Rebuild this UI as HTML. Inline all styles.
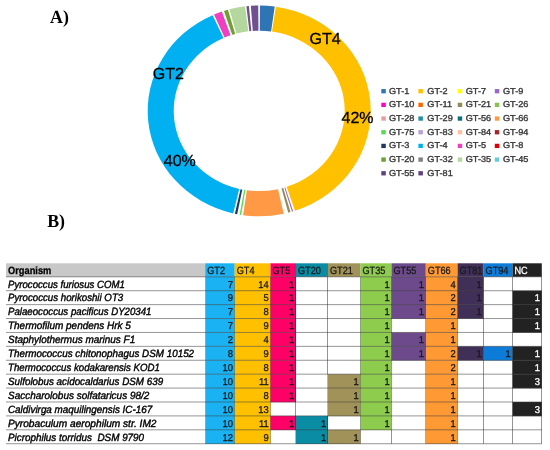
<!DOCTYPE html>
<html><head><meta charset="utf-8"><title>Figure</title>
<style>
html,body{margin:0;padding:0;background:#fff;}
body{width:550px;height:450px;overflow:hidden;}
svg{display:block;}
text{font-family:"Liberation Sans",sans-serif;text-rendering:geometricPrecision;}
.ser{font-family:"Liberation Serif",serif;font-weight:bold;}
</style></head><body>
<svg width="550" height="450" viewBox="0 0 550 450">
<rect width="550" height="450" fill="#fff"/>

<g id="donut">
<path d="M259.98,5.50 A111.5,105.4 0 0 1 274.72,6.53 L271.10,31.48 A85.5,80.2 0 0 0 259.80,30.70 Z" fill="#2E75B6"/>
<path d="M275.87,6.69 A111.5,105.4 0 0 1 294.95,210.74 L286.61,186.87 A85.5,80.2 0 0 0 271.99,31.60 Z" fill="#FFC000"/>
<path d="M293.10,211.31 A111.5,105.4 0 0 1 291.99,211.64 L284.34,187.55 A85.5,80.2 0 0 0 285.19,187.30 Z" fill="#9966CC"/>
<path d="M290.49,212.06 A111.5,105.4 0 0 1 288.25,212.66 L281.47,188.33 A85.5,80.2 0 0 0 283.20,187.88 Z" fill="#948A54"/>
<path d="M283.71,213.72 A111.5,105.4 0 0 1 243.10,215.20 L246.86,190.26 A85.5,80.2 0 0 0 278.00,189.14 Z" fill="#FF9945"/>
<path d="M241.18,214.91 A111.5,105.4 0 0 1 239.65,214.67 L244.21,189.86 A85.5,80.2 0 0 0 245.38,190.05 Z" fill="#55DD55"/>
<path d="M237.16,214.22 A111.5,105.4 0 0 1 234.88,213.76 L240.55,189.17 A85.5,80.2 0 0 0 242.30,189.52 Z" fill="#1F3864"/>
<path d="M233.17,213.39 A111.5,105.4 0 0 1 212.61,15.14 L223.47,38.04 A85.5,80.2 0 0 0 239.24,188.88 Z" fill="#00B0F0"/>
<path d="M214.03,14.54 A111.5,105.4 0 0 1 221.80,11.61 L230.52,35.35 A85.5,80.2 0 0 0 224.56,37.58 Z" fill="#F040C0"/>
<path d="M224.01,10.89 A111.5,105.4 0 0 1 227.91,9.74 L235.20,33.92 A85.5,80.2 0 0 0 232.21,34.80 Z" fill="#70A030"/>
<path d="M229.40,9.33 A111.5,105.4 0 0 1 245.03,6.35 L248.34,31.35 A85.5,80.2 0 0 0 236.35,33.62 Z" fill="#B4D79E"/>
<path d="M246.38,6.20 A111.5,105.4 0 0 1 248.90,5.95 L251.30,31.04 A85.5,80.2 0 0 0 249.37,31.23 Z" fill="#70508F"/>
<path d="M250.84,5.80 A111.5,105.4 0 0 1 258.23,5.50 L258.45,30.70 A85.5,80.2 0 0 0 252.79,30.93 Z" fill="#70508F"/>
</g>
<text transform="translate(309.50,43.50) scale(1.0,1)" font-size="16" text-anchor="start" fill="#000" stroke="#000" stroke-width="0.3">GT4</text>
<text transform="translate(341.50,122.50) scale(1.0,1)" font-size="16" text-anchor="start" fill="#000" stroke="#000" stroke-width="0.3">42%</text>
<text transform="translate(152.80,78.80) scale(1.0,1)" font-size="16" text-anchor="start" fill="#000" stroke="#000" stroke-width="0.3">GT2</text>
<text transform="translate(163.80,165.70) scale(1.0,1)" font-size="16" text-anchor="start" fill="#000" stroke="#000" stroke-width="0.3">40%</text>
<text class="ser" transform="translate(50,22.8) scale(0.965,1)" font-size="18.5">A)</text>
<text class="ser" transform="translate(47.2,227.2) scale(0.965,1)" font-size="18.5">B)</text>
<g id="legend">
<rect x="381.30" y="89.05" width="4.5" height="4.3" fill="#2E75B6"/>
<text transform="translate(389.00,93.70) scale(1.065,1)" font-size="8.6" text-anchor="start" fill="#383838" stroke="#383838" stroke-width="0.35">GT-1</text>
<rect x="418.40" y="89.05" width="4.5" height="4.3" fill="#FFC000"/>
<text transform="translate(427.30,93.70) scale(1.065,1)" font-size="8.6" text-anchor="start" fill="#383838" stroke="#383838" stroke-width="0.35">GT-2</text>
<rect x="457.70" y="89.05" width="4.5" height="4.3" fill="#FFFF00"/>
<text transform="translate(465.70,93.70) scale(1.065,1)" font-size="8.6" text-anchor="start" fill="#383838" stroke="#383838" stroke-width="0.35">GT-7</text>
<rect x="494.80" y="89.05" width="4.5" height="4.3" fill="#9966CC"/>
<text transform="translate(503.00,93.70) scale(1.065,1)" font-size="8.6" text-anchor="start" fill="#383838" stroke="#383838" stroke-width="0.35">GT-9</text>
<rect x="381.30" y="102.73" width="4.5" height="4.3" fill="#FF00CC"/>
<text transform="translate(389.00,107.38) scale(1.065,1)" font-size="8.6" text-anchor="start" fill="#383838" stroke="#383838" stroke-width="0.35">GT-10</text>
<rect x="418.40" y="102.73" width="4.5" height="4.3" fill="#FF6600"/>
<text transform="translate(427.30,107.38) scale(1.065,1)" font-size="8.6" text-anchor="start" fill="#383838" stroke="#383838" stroke-width="0.35">GT-11</text>
<rect x="457.70" y="102.73" width="4.5" height="4.3" fill="#948A54"/>
<text transform="translate(465.70,107.38) scale(1.065,1)" font-size="8.6" text-anchor="start" fill="#383838" stroke="#383838" stroke-width="0.35">GT-21</text>
<rect x="494.80" y="102.73" width="4.5" height="4.3" fill="#8CC152"/>
<text transform="translate(503.00,107.38) scale(1.065,1)" font-size="8.6" text-anchor="start" fill="#383838" stroke="#383838" stroke-width="0.35">GT-26</text>
<rect x="381.30" y="116.41" width="4.5" height="4.3" fill="#E6A0A0"/>
<text transform="translate(389.00,121.06) scale(1.065,1)" font-size="8.6" text-anchor="start" fill="#383838" stroke="#383838" stroke-width="0.35">GT-28</text>
<rect x="418.40" y="116.41" width="4.5" height="4.3" fill="#2090A8"/>
<text transform="translate(427.30,121.06) scale(1.065,1)" font-size="8.6" text-anchor="start" fill="#383838" stroke="#383838" stroke-width="0.35">GT-29</text>
<rect x="457.70" y="116.41" width="4.5" height="4.3" fill="#107080"/>
<text transform="translate(465.70,121.06) scale(1.065,1)" font-size="8.6" text-anchor="start" fill="#383838" stroke="#383838" stroke-width="0.35">GT-56</text>
<rect x="494.80" y="116.41" width="4.5" height="4.3" fill="#FF9945"/>
<text transform="translate(503.00,121.06) scale(1.065,1)" font-size="8.6" text-anchor="start" fill="#383838" stroke="#383838" stroke-width="0.35">GT-66</text>
<rect x="381.30" y="130.09" width="4.5" height="4.3" fill="#55DD55"/>
<text transform="translate(389.00,134.74) scale(1.065,1)" font-size="8.6" text-anchor="start" fill="#383838" stroke="#383838" stroke-width="0.35">GT-75</text>
<rect x="418.40" y="130.09" width="4.5" height="4.3" fill="#B8A0D8"/>
<text transform="translate(427.30,134.74) scale(1.065,1)" font-size="8.6" text-anchor="start" fill="#383838" stroke="#383838" stroke-width="0.35">GT-83</text>
<rect x="457.70" y="130.09" width="4.5" height="4.3" fill="#FFC0A0"/>
<text transform="translate(465.70,134.74) scale(1.065,1)" font-size="8.6" text-anchor="start" fill="#383838" stroke="#383838" stroke-width="0.35">GT-84</text>
<rect x="494.80" y="130.09" width="4.5" height="4.3" fill="#A02828"/>
<text transform="translate(503.00,134.74) scale(1.065,1)" font-size="8.6" text-anchor="start" fill="#383838" stroke="#383838" stroke-width="0.35">GT-94</text>
<rect x="381.30" y="143.77" width="4.5" height="4.3" fill="#1F3864"/>
<text transform="translate(389.00,148.42) scale(1.065,1)" font-size="8.6" text-anchor="start" fill="#383838" stroke="#383838" stroke-width="0.35">GT-3</text>
<rect x="418.40" y="143.77" width="4.5" height="4.3" fill="#00B0F0"/>
<text transform="translate(427.30,148.42) scale(1.065,1)" font-size="8.6" text-anchor="start" fill="#383838" stroke="#383838" stroke-width="0.35">GT-4</text>
<rect x="457.70" y="143.77" width="4.5" height="4.3" fill="#F040C0"/>
<text transform="translate(465.70,148.42) scale(1.065,1)" font-size="8.6" text-anchor="start" fill="#383838" stroke="#383838" stroke-width="0.35">GT-5</text>
<rect x="494.80" y="143.77" width="4.5" height="4.3" fill="#DD0000"/>
<text transform="translate(503.00,148.42) scale(1.065,1)" font-size="8.6" text-anchor="start" fill="#383838" stroke="#383838" stroke-width="0.35">GT-8</text>
<rect x="381.30" y="157.45" width="4.5" height="4.3" fill="#70A030"/>
<text transform="translate(389.00,162.10) scale(1.065,1)" font-size="8.6" text-anchor="start" fill="#383838" stroke="#383838" stroke-width="0.35">GT-20</text>
<rect x="418.40" y="157.45" width="4.5" height="4.3" fill="#808080"/>
<text transform="translate(427.30,162.10) scale(1.065,1)" font-size="8.6" text-anchor="start" fill="#383838" stroke="#383838" stroke-width="0.35">GT-32</text>
<rect x="457.70" y="157.45" width="4.5" height="4.3" fill="#B4D79E"/>
<text transform="translate(465.70,162.10) scale(1.065,1)" font-size="8.6" text-anchor="start" fill="#383838" stroke="#383838" stroke-width="0.35">GT-35</text>
<rect x="494.80" y="157.45" width="4.5" height="4.3" fill="#66CCDD"/>
<text transform="translate(503.00,162.10) scale(1.065,1)" font-size="8.6" text-anchor="start" fill="#383838" stroke="#383838" stroke-width="0.35">GT-45</text>
<rect x="381.30" y="171.13" width="4.5" height="4.3" fill="#604080"/>
<text transform="translate(389.00,175.78) scale(1.065,1)" font-size="8.6" text-anchor="start" fill="#383838" stroke="#383838" stroke-width="0.35">GT-55</text>
<rect x="418.40" y="171.13" width="4.5" height="4.3" fill="#604080"/>
<text transform="translate(427.30,175.78) scale(1.065,1)" font-size="8.6" text-anchor="start" fill="#383838" stroke="#383838" stroke-width="0.35">GT-81</text>
</g>
<g id="table">
<rect x="6" y="263.3" width="199.2" height="13.5" fill="#C8C8C8"/>
<rect x="205.2" y="263.3" width="29.5" height="13.5" fill="#1AB2F2"/>
<rect x="234.7" y="263.3" width="35.80000000000001" height="13.5" fill="#FFC000"/>
<rect x="270.5" y="263.3" width="25.5" height="13.5" fill="#FF0066"/>
<rect x="296" y="263.3" width="32" height="13.5" fill="#0A8CA4"/>
<rect x="328" y="263.3" width="32.5" height="13.5" fill="#A09258"/>
<rect x="360.5" y="263.3" width="31.0" height="13.5" fill="#8ECC4E"/>
<rect x="391.5" y="263.3" width="34.30000000000001" height="13.5" fill="#6C4A8C"/>
<rect x="425.8" y="263.3" width="31.80000000000001" height="13.5" fill="#FF9933"/>
<rect x="457.6" y="263.3" width="26.0" height="13.5" fill="#403058"/>
<rect x="483.6" y="263.3" width="28.899999999999977" height="13.5" fill="#0C7CD8"/>
<rect x="512.5" y="263.3" width="29.299999999999955" height="13.5" fill="#222222"/>
<rect x="205.2" y="276.80" width="29.50" height="14.16" fill="#1AB2F2"/>
<rect x="234.7" y="276.80" width="35.80" height="14.16" fill="#FFC000"/>
<rect x="270.5" y="276.80" width="25.50" height="14.16" fill="#FF0066"/>
<rect x="360.5" y="276.80" width="31.00" height="14.16" fill="#8ECC4E"/>
<rect x="391.5" y="276.80" width="34.30" height="14.16" fill="#6C4A8C"/>
<rect x="425.8" y="276.80" width="31.80" height="14.16" fill="#FF9933"/>
<rect x="457.6" y="276.80" width="26.00" height="14.16" fill="#403058"/>
<rect x="205.2" y="290.71" width="29.50" height="14.16" fill="#1AB2F2"/>
<rect x="234.7" y="290.71" width="35.80" height="14.16" fill="#FFC000"/>
<rect x="270.5" y="290.71" width="25.50" height="14.16" fill="#FF0066"/>
<rect x="360.5" y="290.71" width="31.00" height="14.16" fill="#8ECC4E"/>
<rect x="391.5" y="290.71" width="34.30" height="14.16" fill="#6C4A8C"/>
<rect x="425.8" y="290.71" width="31.80" height="14.16" fill="#FF9933"/>
<rect x="457.6" y="290.71" width="26.00" height="14.16" fill="#403058"/>
<rect x="512.5" y="290.71" width="29.30" height="14.16" fill="#222222"/>
<rect x="205.2" y="304.62" width="29.50" height="14.16" fill="#1AB2F2"/>
<rect x="234.7" y="304.62" width="35.80" height="14.16" fill="#FFC000"/>
<rect x="270.5" y="304.62" width="25.50" height="14.16" fill="#FF0066"/>
<rect x="360.5" y="304.62" width="31.00" height="14.16" fill="#8ECC4E"/>
<rect x="391.5" y="304.62" width="34.30" height="14.16" fill="#6C4A8C"/>
<rect x="425.8" y="304.62" width="31.80" height="14.16" fill="#FF9933"/>
<rect x="457.6" y="304.62" width="26.00" height="14.16" fill="#403058"/>
<rect x="512.5" y="304.62" width="29.30" height="14.16" fill="#222222"/>
<rect x="205.2" y="318.53" width="29.50" height="14.16" fill="#1AB2F2"/>
<rect x="234.7" y="318.53" width="35.80" height="14.16" fill="#FFC000"/>
<rect x="270.5" y="318.53" width="25.50" height="14.16" fill="#FF0066"/>
<rect x="360.5" y="318.53" width="31.00" height="14.16" fill="#8ECC4E"/>
<rect x="425.8" y="318.53" width="31.80" height="14.16" fill="#FF9933"/>
<rect x="512.5" y="318.53" width="29.30" height="14.16" fill="#222222"/>
<rect x="205.2" y="332.44" width="29.50" height="14.16" fill="#1AB2F2"/>
<rect x="234.7" y="332.44" width="35.80" height="14.16" fill="#FFC000"/>
<rect x="270.5" y="332.44" width="25.50" height="14.16" fill="#FF0066"/>
<rect x="360.5" y="332.44" width="31.00" height="14.16" fill="#8ECC4E"/>
<rect x="391.5" y="332.44" width="34.30" height="14.16" fill="#6C4A8C"/>
<rect x="425.8" y="332.44" width="31.80" height="14.16" fill="#FF9933"/>
<rect x="205.2" y="346.35" width="29.50" height="14.16" fill="#1AB2F2"/>
<rect x="234.7" y="346.35" width="35.80" height="14.16" fill="#FFC000"/>
<rect x="270.5" y="346.35" width="25.50" height="14.16" fill="#FF0066"/>
<rect x="360.5" y="346.35" width="31.00" height="14.16" fill="#8ECC4E"/>
<rect x="391.5" y="346.35" width="34.30" height="14.16" fill="#6C4A8C"/>
<rect x="425.8" y="346.35" width="31.80" height="14.16" fill="#FF9933"/>
<rect x="457.6" y="346.35" width="26.00" height="14.16" fill="#403058"/>
<rect x="483.6" y="346.35" width="28.90" height="14.16" fill="#0C7CD8"/>
<rect x="512.5" y="346.35" width="29.30" height="14.16" fill="#222222"/>
<rect x="205.2" y="360.26" width="29.50" height="14.16" fill="#1AB2F2"/>
<rect x="234.7" y="360.26" width="35.80" height="14.16" fill="#FFC000"/>
<rect x="270.5" y="360.26" width="25.50" height="14.16" fill="#FF0066"/>
<rect x="360.5" y="360.26" width="31.00" height="14.16" fill="#8ECC4E"/>
<rect x="425.8" y="360.26" width="31.80" height="14.16" fill="#FF9933"/>
<rect x="512.5" y="360.26" width="29.30" height="14.16" fill="#222222"/>
<rect x="205.2" y="374.17" width="29.50" height="14.16" fill="#1AB2F2"/>
<rect x="234.7" y="374.17" width="35.80" height="14.16" fill="#FFC000"/>
<rect x="270.5" y="374.17" width="25.50" height="14.16" fill="#FF0066"/>
<rect x="328" y="374.17" width="32.50" height="14.16" fill="#A09258"/>
<rect x="360.5" y="374.17" width="31.00" height="14.16" fill="#8ECC4E"/>
<rect x="425.8" y="374.17" width="31.80" height="14.16" fill="#FF9933"/>
<rect x="512.5" y="374.17" width="29.30" height="14.16" fill="#222222"/>
<rect x="205.2" y="388.08" width="29.50" height="14.16" fill="#1AB2F2"/>
<rect x="234.7" y="388.08" width="35.80" height="14.16" fill="#FFC000"/>
<rect x="270.5" y="388.08" width="25.50" height="14.16" fill="#FF0066"/>
<rect x="328" y="388.08" width="32.50" height="14.16" fill="#A09258"/>
<rect x="360.5" y="388.08" width="31.00" height="14.16" fill="#8ECC4E"/>
<rect x="425.8" y="388.08" width="31.80" height="14.16" fill="#FF9933"/>
<rect x="205.2" y="401.99" width="29.50" height="14.16" fill="#1AB2F2"/>
<rect x="234.7" y="401.99" width="35.80" height="14.16" fill="#FFC000"/>
<rect x="328" y="401.99" width="32.50" height="14.16" fill="#A09258"/>
<rect x="360.5" y="401.99" width="31.00" height="14.16" fill="#8ECC4E"/>
<rect x="425.8" y="401.99" width="31.80" height="14.16" fill="#FF9933"/>
<rect x="512.5" y="401.99" width="29.30" height="14.16" fill="#222222"/>
<rect x="205.2" y="415.90" width="29.50" height="14.16" fill="#1AB2F2"/>
<rect x="234.7" y="415.90" width="35.80" height="14.16" fill="#FFC000"/>
<rect x="270.5" y="415.90" width="25.50" height="14.16" fill="#FF0066"/>
<rect x="296" y="415.90" width="32.00" height="14.16" fill="#0A8CA4"/>
<rect x="360.5" y="415.90" width="31.00" height="14.16" fill="#8ECC4E"/>
<rect x="425.8" y="415.90" width="31.80" height="14.16" fill="#FF9933"/>
<rect x="205.2" y="429.81" width="29.50" height="14.16" fill="#1AB2F2"/>
<rect x="234.7" y="429.81" width="35.80" height="14.16" fill="#FFC000"/>
<rect x="296" y="429.81" width="32.00" height="14.16" fill="#0A8CA4"/>
<rect x="328" y="429.81" width="32.50" height="14.16" fill="#A09258"/>
<rect x="425.8" y="429.81" width="31.80" height="14.16" fill="#FF9933"/>
<rect x="6" y="276.30" width="535.8" height="1" fill="#404040" fill-opacity="0.55"/>
<rect x="6" y="290.21" width="535.8" height="1" fill="#404040" fill-opacity="0.55"/>
<rect x="6" y="304.12" width="535.8" height="1" fill="#404040" fill-opacity="0.55"/>
<rect x="6" y="318.03" width="535.8" height="1" fill="#404040" fill-opacity="0.55"/>
<rect x="6" y="331.94" width="535.8" height="1" fill="#404040" fill-opacity="0.55"/>
<rect x="6" y="345.85" width="535.8" height="1" fill="#404040" fill-opacity="0.55"/>
<rect x="6" y="359.76" width="535.8" height="1" fill="#404040" fill-opacity="0.55"/>
<rect x="6" y="373.67" width="535.8" height="1" fill="#404040" fill-opacity="0.55"/>
<rect x="6" y="387.58" width="535.8" height="1" fill="#404040" fill-opacity="0.55"/>
<rect x="6" y="401.49" width="535.8" height="1" fill="#404040" fill-opacity="0.55"/>
<rect x="6" y="415.40" width="535.8" height="1" fill="#404040" fill-opacity="0.55"/>
<rect x="6" y="429.31" width="535.8" height="1" fill="#404040" fill-opacity="0.55"/>
<rect x="6" y="443.22" width="535.8" height="1" fill="#404040" fill-opacity="0.55"/>
<rect x="234" y="276.80" width="1" height="13.91" fill="#000" fill-opacity="0.28"/>
<rect x="234" y="290.71" width="1" height="13.91" fill="#000" fill-opacity="0.28"/>
<rect x="234" y="304.62" width="1" height="13.91" fill="#000" fill-opacity="0.28"/>
<rect x="234" y="318.53" width="1" height="13.91" fill="#000" fill-opacity="0.28"/>
<rect x="234" y="332.44" width="1" height="13.91" fill="#000" fill-opacity="0.28"/>
<rect x="234" y="346.35" width="1" height="13.91" fill="#000" fill-opacity="0.28"/>
<rect x="234" y="360.26" width="1" height="13.91" fill="#000" fill-opacity="0.28"/>
<rect x="234" y="374.17" width="1" height="13.91" fill="#000" fill-opacity="0.28"/>
<rect x="234" y="388.08" width="1" height="13.91" fill="#000" fill-opacity="0.28"/>
<rect x="234" y="401.99" width="1" height="13.91" fill="#000" fill-opacity="0.28"/>
<rect x="234" y="415.90" width="1" height="13.91" fill="#000" fill-opacity="0.28"/>
<rect x="234" y="429.81" width="1" height="13.91" fill="#000" fill-opacity="0.28"/>
<rect x="270" y="276.80" width="1" height="13.91" fill="#000" fill-opacity="0.28"/>
<rect x="270" y="290.71" width="1" height="13.91" fill="#000" fill-opacity="0.28"/>
<rect x="270" y="304.62" width="1" height="13.91" fill="#000" fill-opacity="0.28"/>
<rect x="270" y="318.53" width="1" height="13.91" fill="#000" fill-opacity="0.28"/>
<rect x="270" y="332.44" width="1" height="13.91" fill="#000" fill-opacity="0.28"/>
<rect x="270" y="346.35" width="1" height="13.91" fill="#000" fill-opacity="0.28"/>
<rect x="270" y="360.26" width="1" height="13.91" fill="#000" fill-opacity="0.28"/>
<rect x="270" y="374.17" width="1" height="13.91" fill="#000" fill-opacity="0.28"/>
<rect x="270" y="388.08" width="1" height="13.91" fill="#000" fill-opacity="0.28"/>
<rect x="270" y="401.99" width="1" height="13.91" fill="#000" fill-opacity="0.28"/>
<rect x="270" y="415.90" width="1" height="13.91" fill="#000" fill-opacity="0.28"/>
<rect x="270" y="429.81" width="1" height="13.91" fill="#000" fill-opacity="0.28"/>
<rect x="295" y="276.80" width="1" height="13.91" fill="#000" fill-opacity="0.28"/>
<rect x="295" y="290.71" width="1" height="13.91" fill="#000" fill-opacity="0.28"/>
<rect x="295" y="304.62" width="1" height="13.91" fill="#000" fill-opacity="0.28"/>
<rect x="295" y="318.53" width="1" height="13.91" fill="#000" fill-opacity="0.28"/>
<rect x="295" y="332.44" width="1" height="13.91" fill="#000" fill-opacity="0.28"/>
<rect x="295" y="346.35" width="1" height="13.91" fill="#000" fill-opacity="0.28"/>
<rect x="295" y="360.26" width="1" height="13.91" fill="#000" fill-opacity="0.28"/>
<rect x="295" y="374.17" width="1" height="13.91" fill="#000" fill-opacity="0.28"/>
<rect x="295" y="388.08" width="1" height="13.91" fill="#000" fill-opacity="0.28"/>
<rect x="295" y="401.99" width="1" height="13.91" fill="#000" fill-opacity="0.42"/>
<rect x="295" y="415.90" width="1" height="13.91" fill="#000" fill-opacity="0.28"/>
<rect x="295" y="429.81" width="1" height="13.91" fill="#000" fill-opacity="0.28"/>
<rect x="327" y="276.80" width="1" height="13.91" fill="#000" fill-opacity="0.42"/>
<rect x="327" y="290.71" width="1" height="13.91" fill="#000" fill-opacity="0.42"/>
<rect x="327" y="304.62" width="1" height="13.91" fill="#000" fill-opacity="0.42"/>
<rect x="327" y="318.53" width="1" height="13.91" fill="#000" fill-opacity="0.42"/>
<rect x="327" y="332.44" width="1" height="13.91" fill="#000" fill-opacity="0.42"/>
<rect x="327" y="346.35" width="1" height="13.91" fill="#000" fill-opacity="0.42"/>
<rect x="327" y="360.26" width="1" height="13.91" fill="#000" fill-opacity="0.42"/>
<rect x="327" y="374.17" width="1" height="13.91" fill="#000" fill-opacity="0.28"/>
<rect x="327" y="388.08" width="1" height="13.91" fill="#000" fill-opacity="0.28"/>
<rect x="327" y="401.99" width="1" height="13.91" fill="#000" fill-opacity="0.28"/>
<rect x="327" y="415.90" width="1" height="13.91" fill="#000" fill-opacity="0.28"/>
<rect x="327" y="429.81" width="1" height="13.91" fill="#000" fill-opacity="0.28"/>
<rect x="360" y="276.80" width="1" height="13.91" fill="#000" fill-opacity="0.28"/>
<rect x="360" y="290.71" width="1" height="13.91" fill="#000" fill-opacity="0.28"/>
<rect x="360" y="304.62" width="1" height="13.91" fill="#000" fill-opacity="0.28"/>
<rect x="360" y="318.53" width="1" height="13.91" fill="#000" fill-opacity="0.28"/>
<rect x="360" y="332.44" width="1" height="13.91" fill="#000" fill-opacity="0.28"/>
<rect x="360" y="346.35" width="1" height="13.91" fill="#000" fill-opacity="0.28"/>
<rect x="360" y="360.26" width="1" height="13.91" fill="#000" fill-opacity="0.28"/>
<rect x="360" y="374.17" width="1" height="13.91" fill="#000" fill-opacity="0.28"/>
<rect x="360" y="388.08" width="1" height="13.91" fill="#000" fill-opacity="0.28"/>
<rect x="360" y="401.99" width="1" height="13.91" fill="#000" fill-opacity="0.28"/>
<rect x="360" y="415.90" width="1" height="13.91" fill="#000" fill-opacity="0.28"/>
<rect x="360" y="429.81" width="1" height="13.91" fill="#000" fill-opacity="0.28"/>
<rect x="391" y="276.80" width="1" height="13.91" fill="#000" fill-opacity="0.28"/>
<rect x="391" y="290.71" width="1" height="13.91" fill="#000" fill-opacity="0.28"/>
<rect x="391" y="304.62" width="1" height="13.91" fill="#000" fill-opacity="0.28"/>
<rect x="391" y="318.53" width="1" height="13.91" fill="#000" fill-opacity="0.28"/>
<rect x="391" y="332.44" width="1" height="13.91" fill="#000" fill-opacity="0.28"/>
<rect x="391" y="346.35" width="1" height="13.91" fill="#000" fill-opacity="0.28"/>
<rect x="391" y="360.26" width="1" height="13.91" fill="#000" fill-opacity="0.28"/>
<rect x="391" y="374.17" width="1" height="13.91" fill="#000" fill-opacity="0.28"/>
<rect x="391" y="388.08" width="1" height="13.91" fill="#000" fill-opacity="0.28"/>
<rect x="391" y="401.99" width="1" height="13.91" fill="#000" fill-opacity="0.28"/>
<rect x="391" y="415.90" width="1" height="13.91" fill="#000" fill-opacity="0.28"/>
<rect x="391" y="429.81" width="1" height="13.91" fill="#000" fill-opacity="0.42"/>
<rect x="425" y="276.80" width="1" height="13.91" fill="#000" fill-opacity="0.28"/>
<rect x="425" y="290.71" width="1" height="13.91" fill="#000" fill-opacity="0.28"/>
<rect x="425" y="304.62" width="1" height="13.91" fill="#000" fill-opacity="0.28"/>
<rect x="425" y="318.53" width="1" height="13.91" fill="#000" fill-opacity="0.28"/>
<rect x="425" y="332.44" width="1" height="13.91" fill="#000" fill-opacity="0.28"/>
<rect x="425" y="346.35" width="1" height="13.91" fill="#000" fill-opacity="0.28"/>
<rect x="425" y="360.26" width="1" height="13.91" fill="#000" fill-opacity="0.28"/>
<rect x="425" y="374.17" width="1" height="13.91" fill="#000" fill-opacity="0.28"/>
<rect x="425" y="388.08" width="1" height="13.91" fill="#000" fill-opacity="0.28"/>
<rect x="425" y="401.99" width="1" height="13.91" fill="#000" fill-opacity="0.28"/>
<rect x="425" y="415.90" width="1" height="13.91" fill="#000" fill-opacity="0.28"/>
<rect x="425" y="429.81" width="1" height="13.91" fill="#000" fill-opacity="0.28"/>
<rect x="457" y="276.80" width="1" height="13.91" fill="#000" fill-opacity="0.28"/>
<rect x="457" y="290.71" width="1" height="13.91" fill="#000" fill-opacity="0.28"/>
<rect x="457" y="304.62" width="1" height="13.91" fill="#000" fill-opacity="0.28"/>
<rect x="457" y="318.53" width="1" height="13.91" fill="#000" fill-opacity="0.28"/>
<rect x="457" y="332.44" width="1" height="13.91" fill="#000" fill-opacity="0.28"/>
<rect x="457" y="346.35" width="1" height="13.91" fill="#000" fill-opacity="0.28"/>
<rect x="457" y="360.26" width="1" height="13.91" fill="#000" fill-opacity="0.28"/>
<rect x="457" y="374.17" width="1" height="13.91" fill="#000" fill-opacity="0.28"/>
<rect x="457" y="388.08" width="1" height="13.91" fill="#000" fill-opacity="0.28"/>
<rect x="457" y="401.99" width="1" height="13.91" fill="#000" fill-opacity="0.28"/>
<rect x="457" y="415.90" width="1" height="13.91" fill="#000" fill-opacity="0.28"/>
<rect x="457" y="429.81" width="1" height="13.91" fill="#000" fill-opacity="0.28"/>
<rect x="483" y="276.80" width="1" height="13.91" fill="#000" fill-opacity="0.28"/>
<rect x="483" y="290.71" width="1" height="13.91" fill="#000" fill-opacity="0.28"/>
<rect x="483" y="304.62" width="1" height="13.91" fill="#000" fill-opacity="0.28"/>
<rect x="483" y="318.53" width="1" height="13.91" fill="#000" fill-opacity="0.42"/>
<rect x="483" y="332.44" width="1" height="13.91" fill="#000" fill-opacity="0.42"/>
<rect x="483" y="346.35" width="1" height="13.91" fill="#000" fill-opacity="0.28"/>
<rect x="483" y="360.26" width="1" height="13.91" fill="#000" fill-opacity="0.42"/>
<rect x="483" y="374.17" width="1" height="13.91" fill="#000" fill-opacity="0.42"/>
<rect x="483" y="388.08" width="1" height="13.91" fill="#000" fill-opacity="0.42"/>
<rect x="483" y="401.99" width="1" height="13.91" fill="#000" fill-opacity="0.42"/>
<rect x="483" y="415.90" width="1" height="13.91" fill="#000" fill-opacity="0.42"/>
<rect x="483" y="429.81" width="1" height="13.91" fill="#000" fill-opacity="0.42"/>
<rect x="512" y="276.80" width="1" height="13.91" fill="#000" fill-opacity="0.42"/>
<rect x="512" y="290.71" width="1" height="13.91" fill="#000" fill-opacity="0.28"/>
<rect x="512" y="304.62" width="1" height="13.91" fill="#000" fill-opacity="0.28"/>
<rect x="512" y="318.53" width="1" height="13.91" fill="#000" fill-opacity="0.28"/>
<rect x="512" y="332.44" width="1" height="13.91" fill="#000" fill-opacity="0.42"/>
<rect x="512" y="346.35" width="1" height="13.91" fill="#000" fill-opacity="0.28"/>
<rect x="512" y="360.26" width="1" height="13.91" fill="#000" fill-opacity="0.28"/>
<rect x="512" y="374.17" width="1" height="13.91" fill="#000" fill-opacity="0.28"/>
<rect x="512" y="388.08" width="1" height="13.91" fill="#000" fill-opacity="0.42"/>
<rect x="512" y="401.99" width="1" height="13.91" fill="#000" fill-opacity="0.28"/>
<rect x="512" y="415.90" width="1" height="13.91" fill="#000" fill-opacity="0.42"/>
<rect x="512" y="429.81" width="1" height="13.91" fill="#000" fill-opacity="0.42"/>
<rect x="541" y="276.80" width="1" height="13.91" fill="#000" fill-opacity="0.42"/>
<rect x="541" y="290.71" width="1" height="13.91" fill="#000" fill-opacity="0.28"/>
<rect x="541" y="304.62" width="1" height="13.91" fill="#000" fill-opacity="0.28"/>
<rect x="541" y="318.53" width="1" height="13.91" fill="#000" fill-opacity="0.28"/>
<rect x="541" y="332.44" width="1" height="13.91" fill="#000" fill-opacity="0.42"/>
<rect x="541" y="346.35" width="1" height="13.91" fill="#000" fill-opacity="0.28"/>
<rect x="541" y="360.26" width="1" height="13.91" fill="#000" fill-opacity="0.28"/>
<rect x="541" y="374.17" width="1" height="13.91" fill="#000" fill-opacity="0.28"/>
<rect x="541" y="388.08" width="1" height="13.91" fill="#000" fill-opacity="0.42"/>
<rect x="541" y="401.99" width="1" height="13.91" fill="#000" fill-opacity="0.28"/>
<rect x="541" y="415.90" width="1" height="13.91" fill="#000" fill-opacity="0.42"/>
<rect x="541" y="429.81" width="1" height="13.91" fill="#000" fill-opacity="0.42"/>
<text transform="translate(8.00,273.70) scale(0.8832,1)" font-size="10.5" text-anchor="start" fill="#000" font-weight="bold" stroke="#000" stroke-width="0.3">Organism</text>
<text transform="translate(207.20,273.70) scale(0.87,1)" font-size="10.5" text-anchor="start" fill="#1a1a1a" stroke="#1a1a1a" stroke-width="0.3">GT2</text>
<text transform="translate(236.70,273.70) scale(0.87,1)" font-size="10.5" text-anchor="start" fill="#1a1a1a" stroke="#1a1a1a" stroke-width="0.3">GT4</text>
<text transform="translate(272.50,273.70) scale(0.87,1)" font-size="10.5" text-anchor="start" fill="#1a1a1a" stroke="#1a1a1a" stroke-width="0.3">GT5</text>
<text transform="translate(298.00,273.70) scale(0.87,1)" font-size="10.5" text-anchor="start" fill="#1a1a1a" stroke="#1a1a1a" stroke-width="0.3">GT20</text>
<text transform="translate(330.00,273.70) scale(0.87,1)" font-size="10.5" text-anchor="start" fill="#1a1a1a" stroke="#1a1a1a" stroke-width="0.3">GT21</text>
<text transform="translate(362.50,273.70) scale(0.87,1)" font-size="10.5" text-anchor="start" fill="#1a1a1a" stroke="#1a1a1a" stroke-width="0.3">GT35</text>
<text transform="translate(393.50,273.70) scale(0.87,1)" font-size="10.5" text-anchor="start" fill="#1a1a1a" stroke="#1a1a1a" stroke-width="0.3">GT55</text>
<text transform="translate(427.80,273.70) scale(0.87,1)" font-size="10.5" text-anchor="start" fill="#1a1a1a" stroke="#1a1a1a" stroke-width="0.3">GT66</text>
<text transform="translate(459.60,273.70) scale(0.87,1)" font-size="10.5" text-anchor="start" fill="#1a1a1a" stroke="#1a1a1a" stroke-width="0.3">GT81</text>
<text transform="translate(485.60,273.70) scale(0.87,1)" font-size="10.5" text-anchor="start" fill="#1a1a1a" stroke="#1a1a1a" stroke-width="0.3">GT94</text>
<text transform="translate(514.50,273.70) scale(0.87,1)" font-size="10.5" text-anchor="start" fill="#fff" stroke="#fff" stroke-width="0.3">NC</text>
<text x="8.0" y="287.55" font-size="10.5" font-style="italic" fill="#000" stroke="#000" stroke-width="0.4" textLength="116.9" lengthAdjust="spacingAndGlyphs">Pyrococcus furiosus COM1</text>
<text transform="translate(232.90,287.55) scale(0.95,1)" font-size="9.9" text-anchor="end" fill="#1a1a1a" stroke="#1a1a1a" stroke-width="0.3">7</text>
<text transform="translate(268.70,287.55) scale(0.95,1)" font-size="9.9" text-anchor="end" fill="#1a1a1a" stroke="#1a1a1a" stroke-width="0.3">14</text>
<text transform="translate(294.20,287.55) scale(0.95,1)" font-size="9.9" text-anchor="end" fill="#1a1a1a" stroke="#1a1a1a" stroke-width="0.3">1</text>
<text transform="translate(389.70,287.55) scale(0.95,1)" font-size="9.9" text-anchor="end" fill="#1a1a1a" stroke="#1a1a1a" stroke-width="0.3">1</text>
<text transform="translate(424.00,287.55) scale(0.95,1)" font-size="9.9" text-anchor="end" fill="#1a1a1a" stroke="#1a1a1a" stroke-width="0.3">1</text>
<text transform="translate(455.80,287.55) scale(0.95,1)" font-size="9.9" text-anchor="end" fill="#1a1a1a" stroke="#1a1a1a" stroke-width="0.3">4</text>
<text transform="translate(481.80,287.55) scale(0.95,1)" font-size="9.9" text-anchor="end" fill="#1a1a1a" stroke="#1a1a1a" stroke-width="0.3">1</text>
<text x="8.0" y="301.46" font-size="10.5" font-style="italic" fill="#000" stroke="#000" stroke-width="0.4" textLength="115.2" lengthAdjust="spacingAndGlyphs">Pyrococcus horikoshii OT3</text>
<text transform="translate(232.90,301.46) scale(0.95,1)" font-size="9.9" text-anchor="end" fill="#1a1a1a" stroke="#1a1a1a" stroke-width="0.3">9</text>
<text transform="translate(268.70,301.46) scale(0.95,1)" font-size="9.9" text-anchor="end" fill="#1a1a1a" stroke="#1a1a1a" stroke-width="0.3">5</text>
<text transform="translate(294.20,301.46) scale(0.95,1)" font-size="9.9" text-anchor="end" fill="#1a1a1a" stroke="#1a1a1a" stroke-width="0.3">1</text>
<text transform="translate(389.70,301.46) scale(0.95,1)" font-size="9.9" text-anchor="end" fill="#1a1a1a" stroke="#1a1a1a" stroke-width="0.3">1</text>
<text transform="translate(424.00,301.46) scale(0.95,1)" font-size="9.9" text-anchor="end" fill="#1a1a1a" stroke="#1a1a1a" stroke-width="0.3">1</text>
<text transform="translate(455.80,301.46) scale(0.95,1)" font-size="9.9" text-anchor="end" fill="#1a1a1a" stroke="#1a1a1a" stroke-width="0.3">2</text>
<text transform="translate(481.80,301.46) scale(0.95,1)" font-size="9.9" text-anchor="end" fill="#1a1a1a" stroke="#1a1a1a" stroke-width="0.3">1</text>
<text transform="translate(540.00,301.46) scale(0.95,1)" font-size="9.9" text-anchor="end" fill="#fff" stroke="#fff" stroke-width="0.3">1</text>
<text x="8.0" y="315.37" font-size="10.5" font-style="italic" fill="#000" stroke="#000" stroke-width="0.4" textLength="143.5" lengthAdjust="spacingAndGlyphs">Palaeococcus pacificus DY20341</text>
<text transform="translate(232.90,315.37) scale(0.95,1)" font-size="9.9" text-anchor="end" fill="#1a1a1a" stroke="#1a1a1a" stroke-width="0.3">7</text>
<text transform="translate(268.70,315.37) scale(0.95,1)" font-size="9.9" text-anchor="end" fill="#1a1a1a" stroke="#1a1a1a" stroke-width="0.3">8</text>
<text transform="translate(294.20,315.37) scale(0.95,1)" font-size="9.9" text-anchor="end" fill="#1a1a1a" stroke="#1a1a1a" stroke-width="0.3">1</text>
<text transform="translate(389.70,315.37) scale(0.95,1)" font-size="9.9" text-anchor="end" fill="#1a1a1a" stroke="#1a1a1a" stroke-width="0.3">1</text>
<text transform="translate(424.00,315.37) scale(0.95,1)" font-size="9.9" text-anchor="end" fill="#1a1a1a" stroke="#1a1a1a" stroke-width="0.3">1</text>
<text transform="translate(455.80,315.37) scale(0.95,1)" font-size="9.9" text-anchor="end" fill="#1a1a1a" stroke="#1a1a1a" stroke-width="0.3">2</text>
<text transform="translate(481.80,315.37) scale(0.95,1)" font-size="9.9" text-anchor="end" fill="#1a1a1a" stroke="#1a1a1a" stroke-width="0.3">1</text>
<text transform="translate(540.00,315.37) scale(0.95,1)" font-size="9.9" text-anchor="end" fill="#fff" stroke="#fff" stroke-width="0.3">1</text>
<text x="8.0" y="329.28" font-size="10.5" font-style="italic" fill="#000" stroke="#000" stroke-width="0.4" textLength="122.8" lengthAdjust="spacingAndGlyphs">Thermofilum pendens Hrk 5</text>
<text transform="translate(232.90,329.28) scale(0.95,1)" font-size="9.9" text-anchor="end" fill="#1a1a1a" stroke="#1a1a1a" stroke-width="0.3">7</text>
<text transform="translate(268.70,329.28) scale(0.95,1)" font-size="9.9" text-anchor="end" fill="#1a1a1a" stroke="#1a1a1a" stroke-width="0.3">9</text>
<text transform="translate(294.20,329.28) scale(0.95,1)" font-size="9.9" text-anchor="end" fill="#1a1a1a" stroke="#1a1a1a" stroke-width="0.3">1</text>
<text transform="translate(389.70,329.28) scale(0.95,1)" font-size="9.9" text-anchor="end" fill="#1a1a1a" stroke="#1a1a1a" stroke-width="0.3">1</text>
<text transform="translate(455.80,329.28) scale(0.95,1)" font-size="9.9" text-anchor="end" fill="#1a1a1a" stroke="#1a1a1a" stroke-width="0.3">1</text>
<text transform="translate(540.00,329.28) scale(0.95,1)" font-size="9.9" text-anchor="end" fill="#fff" stroke="#fff" stroke-width="0.3">1</text>
<text x="8.0" y="343.19" font-size="10.5" font-style="italic" fill="#000" stroke="#000" stroke-width="0.4" textLength="127.2" lengthAdjust="spacingAndGlyphs">Staphylothermus marinus F1</text>
<text transform="translate(232.90,343.19) scale(0.95,1)" font-size="9.9" text-anchor="end" fill="#1a1a1a" stroke="#1a1a1a" stroke-width="0.3">2</text>
<text transform="translate(268.70,343.19) scale(0.95,1)" font-size="9.9" text-anchor="end" fill="#1a1a1a" stroke="#1a1a1a" stroke-width="0.3">4</text>
<text transform="translate(294.20,343.19) scale(0.95,1)" font-size="9.9" text-anchor="end" fill="#1a1a1a" stroke="#1a1a1a" stroke-width="0.3">1</text>
<text transform="translate(389.70,343.19) scale(0.95,1)" font-size="9.9" text-anchor="end" fill="#1a1a1a" stroke="#1a1a1a" stroke-width="0.3">1</text>
<text transform="translate(424.00,343.19) scale(0.95,1)" font-size="9.9" text-anchor="end" fill="#1a1a1a" stroke="#1a1a1a" stroke-width="0.3">1</text>
<text transform="translate(455.80,343.19) scale(0.95,1)" font-size="9.9" text-anchor="end" fill="#1a1a1a" stroke="#1a1a1a" stroke-width="0.3">1</text>
<text x="8.0" y="357.10" font-size="10.5" font-style="italic" fill="#000" stroke="#000" stroke-width="0.4" textLength="186.1" lengthAdjust="spacingAndGlyphs">Thermococcus chitonophagus DSM 10152</text>
<text transform="translate(232.90,357.10) scale(0.95,1)" font-size="9.9" text-anchor="end" fill="#1a1a1a" stroke="#1a1a1a" stroke-width="0.3">8</text>
<text transform="translate(268.70,357.10) scale(0.95,1)" font-size="9.9" text-anchor="end" fill="#1a1a1a" stroke="#1a1a1a" stroke-width="0.3">9</text>
<text transform="translate(294.20,357.10) scale(0.95,1)" font-size="9.9" text-anchor="end" fill="#1a1a1a" stroke="#1a1a1a" stroke-width="0.3">1</text>
<text transform="translate(389.70,357.10) scale(0.95,1)" font-size="9.9" text-anchor="end" fill="#1a1a1a" stroke="#1a1a1a" stroke-width="0.3">1</text>
<text transform="translate(424.00,357.10) scale(0.95,1)" font-size="9.9" text-anchor="end" fill="#1a1a1a" stroke="#1a1a1a" stroke-width="0.3">1</text>
<text transform="translate(455.80,357.10) scale(0.95,1)" font-size="9.9" text-anchor="end" fill="#1a1a1a" stroke="#1a1a1a" stroke-width="0.3">2</text>
<text transform="translate(481.80,357.10) scale(0.95,1)" font-size="9.9" text-anchor="end" fill="#1a1a1a" stroke="#1a1a1a" stroke-width="0.3">1</text>
<text transform="translate(510.70,357.10) scale(0.95,1)" font-size="9.9" text-anchor="end" fill="#1a1a1a" stroke="#1a1a1a" stroke-width="0.3">1</text>
<text transform="translate(540.00,357.10) scale(0.95,1)" font-size="9.9" text-anchor="end" fill="#fff" stroke="#fff" stroke-width="0.3">1</text>
<text x="8.0" y="371.01" font-size="10.5" font-style="italic" fill="#000" stroke="#000" stroke-width="0.4" textLength="151.8" lengthAdjust="spacingAndGlyphs">Thermococcus kodakarensis KOD1</text>
<text transform="translate(232.90,371.01) scale(0.95,1)" font-size="9.9" text-anchor="end" fill="#1a1a1a" stroke="#1a1a1a" stroke-width="0.3">10</text>
<text transform="translate(268.70,371.01) scale(0.95,1)" font-size="9.9" text-anchor="end" fill="#1a1a1a" stroke="#1a1a1a" stroke-width="0.3">8</text>
<text transform="translate(294.20,371.01) scale(0.95,1)" font-size="9.9" text-anchor="end" fill="#1a1a1a" stroke="#1a1a1a" stroke-width="0.3">1</text>
<text transform="translate(389.70,371.01) scale(0.95,1)" font-size="9.9" text-anchor="end" fill="#1a1a1a" stroke="#1a1a1a" stroke-width="0.3">1</text>
<text transform="translate(455.80,371.01) scale(0.95,1)" font-size="9.9" text-anchor="end" fill="#1a1a1a" stroke="#1a1a1a" stroke-width="0.3">2</text>
<text transform="translate(540.00,371.01) scale(0.95,1)" font-size="9.9" text-anchor="end" fill="#fff" stroke="#fff" stroke-width="0.3">1</text>
<text x="8.0" y="384.92" font-size="10.5" font-style="italic" fill="#000" stroke="#000" stroke-width="0.4" textLength="155.1" lengthAdjust="spacingAndGlyphs">Sulfolobus acidocaldarius DSM 639</text>
<text transform="translate(232.90,384.92) scale(0.95,1)" font-size="9.9" text-anchor="end" fill="#1a1a1a" stroke="#1a1a1a" stroke-width="0.3">10</text>
<text transform="translate(268.70,384.92) scale(0.95,1)" font-size="9.9" text-anchor="end" fill="#1a1a1a" stroke="#1a1a1a" stroke-width="0.3">11</text>
<text transform="translate(294.20,384.92) scale(0.95,1)" font-size="9.9" text-anchor="end" fill="#1a1a1a" stroke="#1a1a1a" stroke-width="0.3">1</text>
<text transform="translate(358.70,384.92) scale(0.95,1)" font-size="9.9" text-anchor="end" fill="#1a1a1a" stroke="#1a1a1a" stroke-width="0.3">1</text>
<text transform="translate(389.70,384.92) scale(0.95,1)" font-size="9.9" text-anchor="end" fill="#1a1a1a" stroke="#1a1a1a" stroke-width="0.3">1</text>
<text transform="translate(455.80,384.92) scale(0.95,1)" font-size="9.9" text-anchor="end" fill="#1a1a1a" stroke="#1a1a1a" stroke-width="0.3">1</text>
<text transform="translate(540.00,384.92) scale(0.95,1)" font-size="9.9" text-anchor="end" fill="#fff" stroke="#fff" stroke-width="0.3">3</text>
<text x="8.0" y="398.83" font-size="10.5" font-style="italic" fill="#000" stroke="#000" stroke-width="0.4" textLength="141.3" lengthAdjust="spacingAndGlyphs">Saccharolobus solfataricus 98/2</text>
<text transform="translate(232.90,398.83) scale(0.95,1)" font-size="9.9" text-anchor="end" fill="#1a1a1a" stroke="#1a1a1a" stroke-width="0.3">10</text>
<text transform="translate(268.70,398.83) scale(0.95,1)" font-size="9.9" text-anchor="end" fill="#1a1a1a" stroke="#1a1a1a" stroke-width="0.3">8</text>
<text transform="translate(294.20,398.83) scale(0.95,1)" font-size="9.9" text-anchor="end" fill="#1a1a1a" stroke="#1a1a1a" stroke-width="0.3">1</text>
<text transform="translate(358.70,398.83) scale(0.95,1)" font-size="9.9" text-anchor="end" fill="#1a1a1a" stroke="#1a1a1a" stroke-width="0.3">1</text>
<text transform="translate(389.70,398.83) scale(0.95,1)" font-size="9.9" text-anchor="end" fill="#1a1a1a" stroke="#1a1a1a" stroke-width="0.3">1</text>
<text transform="translate(455.80,398.83) scale(0.95,1)" font-size="9.9" text-anchor="end" fill="#1a1a1a" stroke="#1a1a1a" stroke-width="0.3">1</text>
<text x="8.0" y="412.74" font-size="10.5" font-style="italic" fill="#000" stroke="#000" stroke-width="0.4" textLength="144.2" lengthAdjust="spacingAndGlyphs">Caldivirga maquilingensis IC-167</text>
<text transform="translate(232.90,412.74) scale(0.95,1)" font-size="9.9" text-anchor="end" fill="#1a1a1a" stroke="#1a1a1a" stroke-width="0.3">10</text>
<text transform="translate(268.70,412.74) scale(0.95,1)" font-size="9.9" text-anchor="end" fill="#1a1a1a" stroke="#1a1a1a" stroke-width="0.3">13</text>
<text transform="translate(358.70,412.74) scale(0.95,1)" font-size="9.9" text-anchor="end" fill="#1a1a1a" stroke="#1a1a1a" stroke-width="0.3">1</text>
<text transform="translate(389.70,412.74) scale(0.95,1)" font-size="9.9" text-anchor="end" fill="#1a1a1a" stroke="#1a1a1a" stroke-width="0.3">1</text>
<text transform="translate(455.80,412.74) scale(0.95,1)" font-size="9.9" text-anchor="end" fill="#1a1a1a" stroke="#1a1a1a" stroke-width="0.3">1</text>
<text transform="translate(540.00,412.74) scale(0.95,1)" font-size="9.9" text-anchor="end" fill="#fff" stroke="#fff" stroke-width="0.3">3</text>
<text x="8.0" y="426.65" font-size="10.5" font-style="italic" fill="#000" stroke="#000" stroke-width="0.4" textLength="148.5" lengthAdjust="spacingAndGlyphs">Pyrobaculum aerophilum str. IM2</text>
<text transform="translate(232.90,426.65) scale(0.95,1)" font-size="9.9" text-anchor="end" fill="#1a1a1a" stroke="#1a1a1a" stroke-width="0.3">10</text>
<text transform="translate(268.70,426.65) scale(0.95,1)" font-size="9.9" text-anchor="end" fill="#1a1a1a" stroke="#1a1a1a" stroke-width="0.3">11</text>
<text transform="translate(294.20,426.65) scale(0.95,1)" font-size="9.9" text-anchor="end" fill="#1a1a1a" stroke="#1a1a1a" stroke-width="0.3">1</text>
<text transform="translate(326.20,426.65) scale(0.95,1)" font-size="9.9" text-anchor="end" fill="#1a1a1a" stroke="#1a1a1a" stroke-width="0.3">1</text>
<text transform="translate(389.70,426.65) scale(0.95,1)" font-size="9.9" text-anchor="end" fill="#1a1a1a" stroke="#1a1a1a" stroke-width="0.3">1</text>
<text transform="translate(455.80,426.65) scale(0.95,1)" font-size="9.9" text-anchor="end" fill="#1a1a1a" stroke="#1a1a1a" stroke-width="0.3">1</text>
<text x="8.0" y="440.56" font-size="10.5" font-style="italic" fill="#000" stroke="#000" stroke-width="0.4" textLength="136.1" lengthAdjust="spacingAndGlyphs">Picrophilus torridus&#160; DSM 9790</text>
<text transform="translate(232.90,440.56) scale(0.95,1)" font-size="9.9" text-anchor="end" fill="#1a1a1a" stroke="#1a1a1a" stroke-width="0.3">12</text>
<text transform="translate(268.70,440.56) scale(0.95,1)" font-size="9.9" text-anchor="end" fill="#1a1a1a" stroke="#1a1a1a" stroke-width="0.3">9</text>
<text transform="translate(326.20,440.56) scale(0.95,1)" font-size="9.9" text-anchor="end" fill="#1a1a1a" stroke="#1a1a1a" stroke-width="0.3">1</text>
<text transform="translate(358.70,440.56) scale(0.95,1)" font-size="9.9" text-anchor="end" fill="#1a1a1a" stroke="#1a1a1a" stroke-width="0.3">1</text>
<text transform="translate(455.80,440.56) scale(0.95,1)" font-size="9.9" text-anchor="end" fill="#1a1a1a" stroke="#1a1a1a" stroke-width="0.3">1</text>
</g>
</svg></body></html>
